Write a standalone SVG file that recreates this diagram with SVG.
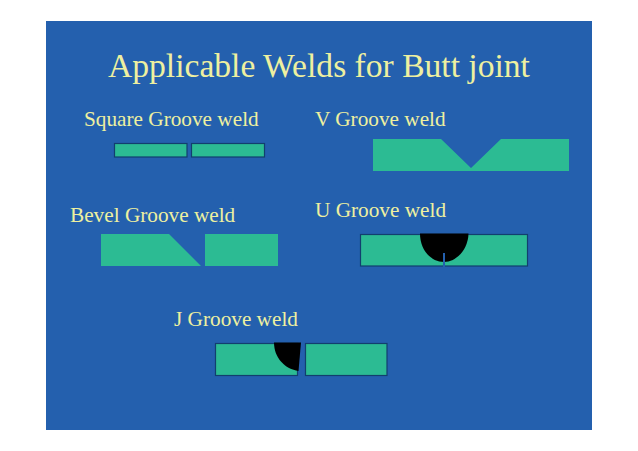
<svg xmlns="http://www.w3.org/2000/svg" width="638" height="451" viewBox="0 0 638 451">
<style>
text{font-family:"Liberation Serif","Times New Roman",serif;fill:#eef0a0;font-size:21.25px}
.title{font-size:33.6px}
.p{fill:#2cbb93}
.o{stroke:#123f6e;stroke-width:1.2}
.k{fill:#000}
</style>
<rect width="638" height="451" fill="#fff"/>
<rect x="46" y="21" width="546" height="409" fill="#2460ae"/>
<text class="title" x="108" y="77">Applicable Welds for Butt joint</text>
<g id="square">
<text x="84" y="126">Square Groove weld</text>
<rect class="p o" x="114.500" y="143.500" width="72.500" height="13.500"/>
<rect class="p o" x="191.500" y="143.500" width="73" height="13.500"/>
</g>
<g id="v">
<text x="315" y="126">V Groove weld</text>
<path class="p" d="M373 139H441L471 168L501 139H569V171H373Z"/>
</g>
<g id="bevel">
<text x="70" y="222">Bevel Groove weld</text>
<path class="p" d="M101 234H169L201 266H101Z"/>
<rect class="p" x="205" y="234" width="73" height="32"/>
</g>
<g id="u">
<text x="315" y="217">U Groove weld</text>
<rect class="p o" x="360.500" y="234.500" width="167" height="31.500"/>
<path class="k" d="M420 233.500H468.500C468 250 456 262 444 262C431 262 420 250 420 233.500Z"/>
<path d="M444 253V267" stroke="#2460ae" stroke-width="2" fill="none"/>
</g>
<g id="j">
<text x="174" y="326">J Groove weld</text>
<rect class="p o" x="215.500" y="343.500" width="82" height="32"/>
<rect class="p o" x="305.500" y="343.500" width="81.500" height="32"/>
<path class="k" d="M274 342.500H301L298.500 371C285 369 274 358 274 342.500Z"/>
</g>
</svg>
